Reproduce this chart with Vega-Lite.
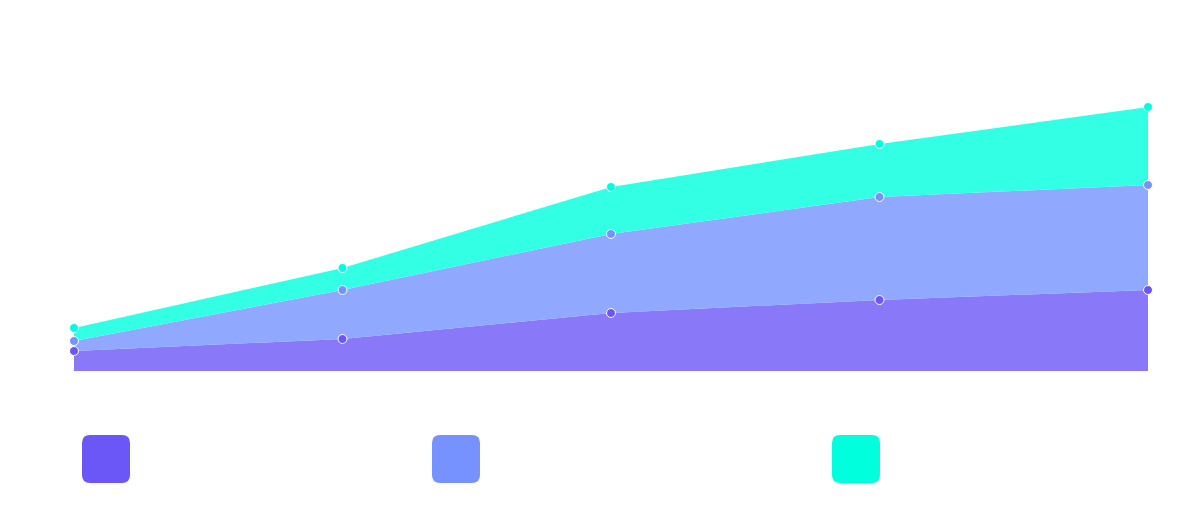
{
  "$schema": "https://vega.github.io/schema/vega-lite/v6.json",
  "width": 1074,
  "height": 350,
  "autosize": {"type": "none"},
  "padding": {"left": 74, "top": 21, "right": 34, "bottom": 139},
  "background": "#ffffff",
  "config": {"view": {"stroke": null}, "font": "Roboto"},
  "data": {
    "values": [
      {"period": "1", "series": "Direct", "value": 20},
      {"period": "2", "series": "Direct", "value": 32},
      {"period": "3", "series": "Direct", "value": 58},
      {"period": "4", "series": "Direct", "value": 71},
      {"period": "5", "series": "Direct", "value": 81},
      {"period": "1", "series": "Email Referral", "value": 10},
      {"period": "2", "series": "Email Referral", "value": 49},
      {"period": "3", "series": "Email Referral", "value": 79},
      {"period": "4", "series": "Email Referral", "value": 103},
      {"period": "5", "series": "Email Referral", "value": 105},
      {"period": "1", "series": "Search", "value": 13},
      {"period": "2", "series": "Search", "value": 22},
      {"period": "3", "series": "Search", "value": 47},
      {"period": "4", "series": "Search", "value": 53},
      {"period": "5", "series": "Search", "value": 78}
    ]
  },
  "encoding": {
    "x": {"field": "period", "type": "ordinal", "scale": {"type": "point", "padding": 0}, "axis": null},
    "y": {"field": "value", "type": "quantitative", "stack": "zero", "scale": {"domain": [0, 350], "nice": false, "zero": true}, "axis": null},
    "color": {
      "field": "series",
      "type": "nominal",
      "scale": {"domain": ["Direct", "Email Referral", "Search"], "range": ["#6B57F7", "#7692FF", "#00FFDD"]},
      "legend": {
        "orient": "none",
        "direction": "horizontal",
        "legendX": 8,
        "legendY": 414,
        "title": null,
        "symbolType": "M-0.667,-1L0.667,-1Q1,-1 1,-0.667L1,0.667Q1,1 0.667,1L-0.667,1Q-1,1 -1,0.667L-1,-0.667Q-1,-1 -0.667,-1Z",
        "symbolSize": 2304,
        "symbolOpacity": 1,
        "symbolStrokeWidth": 0,
        "labelFontSize": 14,
        "labelColor": "#ffffff",
        "labelOffset": 12,
        "columnPadding": 253
      }
    },
    "order": {"field": "series", "sort": "ascending"}
  },
  "layer": [
    {"mark": {"type": "area", "opacity": 0.8}},
    {"mark": {"type": "point", "filled": true, "size": 80, "opacity": 1, "stroke": "#ffffff", "strokeWidth": 1}}
  ]
}
